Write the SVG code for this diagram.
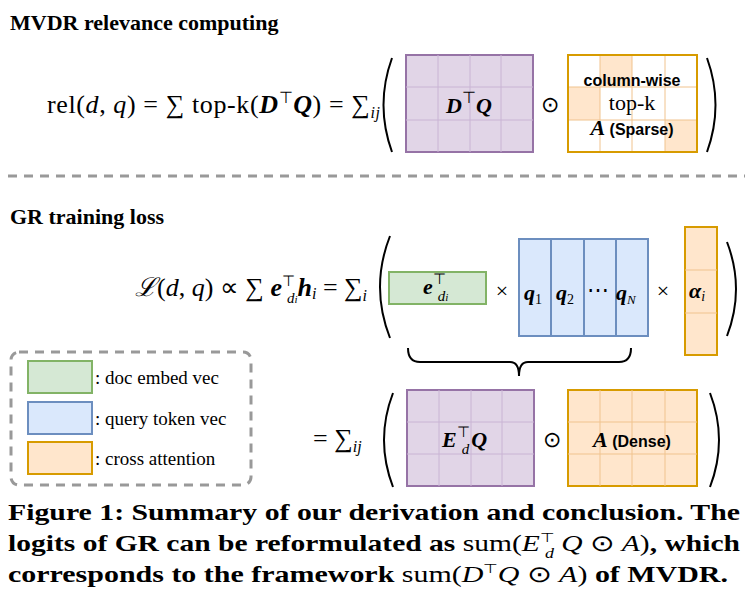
<svg xmlns="http://www.w3.org/2000/svg" width="751" height="597" viewBox="0 0 751 597">
<style>
.t{font-family:"Liberation Serif",serif;font-size:22px;fill:#000}
.f{font-size:26px}
.m{font-family:"Liberation Serif",serif;font-size:22px;font-style:italic;fill:#000}
.b{font-weight:bold}
.h{font-family:"Liberation Serif",serif;font-size:22px;font-weight:bold}
.s{font-family:"Liberation Sans",sans-serif;font-weight:bold;font-size:16px}
.lg{font-family:"Liberation Serif",serif;font-size:19px}
.pur{fill:#e1d5e7;stroke:#9673a6;stroke-width:2}
.ora{fill:#ffe6cc;stroke:#d79b00;stroke-width:2}
.grn{fill:#d5e8d4;stroke:#82b366;stroke-width:2}
.blu{fill:#dae8fc;stroke:#6c8ebf;stroke-width:2}
.gp{stroke:#c9b4d4;stroke-width:1;fill:none}
.go{stroke:#f0c38e;stroke-width:1;fill:none}
.par{fill:none;stroke:#000;stroke-width:2}
.cap{font-family:"Liberation Serif",serif;font-size:23px;font-weight:bold}
</style>
<rect width="751" height="597" fill="#fff"/>
<text x="10" y="30" class="h">MVDR relevance computing</text>
<g id="formula1">
<text x="47" y="113" class="t f" textLength="333" lengthAdjust="spacing">rel(<tspan font-style="italic">d</tspan>, <tspan font-style="italic">q</tspan>) = ∑ top-k(<tspan font-style="italic" font-weight="bold">D</tspan><tspan font-size="16" dy="-10">⊤</tspan><tspan font-style="italic" font-weight="bold" dy="10">Q</tspan>) = ∑<tspan font-size="16" font-style="italic" dy="5">ij</tspan></text>
</g>
<path class="par" d="M392,58 Q375,105 392,152"/>
<path class="par" d="M707,58 Q724,105 707,152"/>
<g id="DtQ">
<rect x="406" y="55" width="127" height="97" class="pur"/>
<path class="gp" d="M438,55V152M470,55V152M501,55V152M406,87H533M406,120H533"/>
<text x="469" y="113" class="m b f" text-anchor="middle">D<tspan font-size="16" font-style="normal" font-weight="normal" dy="-10">⊤</tspan><tspan dy="10">Q</tspan></text>
</g>
<text x="550" y="112" class="t" text-anchor="middle">⊙</text>
<g id="Asparse">
<rect x="568" y="55" width="129" height="97" fill="#fff"/>
<rect x="600" y="55" width="32" height="32" fill="#ffe6cc"/>
<rect x="568" y="87" width="32" height="33" fill="#ffe6cc"/>
<rect x="665" y="120" width="32" height="32" fill="#ffe6cc"/>
<path class="go" d="M600,55V152M632,55V152M665,55V152M568,87H697M568,120H697"/>
<rect x="568" y="55" width="129" height="97" fill="none" stroke="#d79b00" stroke-width="2"/>
<text x="632" y="86" class="s" text-anchor="middle">column-wise</text>
<text x="632" y="110" class="t" font-size="20" text-anchor="middle">top-k</text>
<text x="632" y="135" class="s" text-anchor="middle"><tspan class="m b" font-size="21">A</tspan> (Sparse)</text>
</g>
<line x1="8" y1="176" x2="745" y2="176" stroke="#999" stroke-width="3" stroke-dasharray="9,7"/>
<text x="10" y="224" class="h">GR training loss</text>
<g id="formula2">
<text x="135" y="296" class="t f"><tspan font-style="italic">ℒ</tspan>(<tspan font-style="italic">d</tspan>, <tspan font-style="italic">q</tspan>) ∝ ∑ <tspan font-style="italic" font-weight="bold">e</tspan><tspan font-size="15" dy="-10">⊤</tspan><tspan font-size="15" font-style="italic" dx="-8" dy="17">d<tspan font-size="11">i</tspan></tspan><tspan font-style="italic" font-weight="bold" dy="-7">h</tspan><tspan font-style="italic" font-size="16" dy="3">i</tspan><tspan dy="-3"> = ∑</tspan><tspan font-size="16" font-style="italic" dy="5">i</tspan></text>
</g>
<path class="par" d="M390,236 Q370,287 390,338"/>
<path class="par" d="M727,242 Q745,289 727,336"/>
<g id="edi">
<rect x="389" y="272" width="97" height="32" class="grn"/>
<text x="423" y="294" class="m b f">e<tspan font-size="15" font-style="normal" font-weight="normal" dy="-10">⊤</tspan><tspan font-size="15" font-weight="normal" dx="-8" dy="17">d<tspan font-size="11">i</tspan></tspan></text>
</g>
<text x="502" y="298" class="t" text-anchor="middle">×</text>
<g id="qtokens">
<rect x="519" y="239" width="129" height="97" class="blu"/>
<path d="M551,239V336M584,239V336M616,239V336" stroke="#6c8ebf" stroke-width="2"/>
<text x="524" y="300" class="m b f">q<tspan font-size="14" font-style="normal" font-weight="normal" dy="4">1</tspan></text>
<text x="556" y="300" class="m b f">q<tspan font-size="14" font-style="normal" font-weight="normal" dy="4">2</tspan></text>
<text x="587" y="297" class="t">⋯</text>
<text x="616" y="300" class="m b f">q<tspan font-size="13" font-weight="normal" dy="4">N</tspan></text>
</g>
<text x="663" y="298" class="t" text-anchor="middle">×</text>
<g id="alpha">
<rect x="685" y="227" width="32" height="128" class="ora"/>
<path class="go" d="M685,270H717M685,313H717"/>
<text x="689" y="298" class="m b f">α<tspan font-size="14" font-weight="normal" dy="3">i</tspan></text>
</g>
<g id="connectors">
<path class="par" d="M408,348 Q408,362 420,362 H510 Q519,362 519,376 Q519,362 528,362 H619 Q631,362 631,348" stroke-width="1.6"/>
</g>
<g id="legend">
<rect x="11" y="352" width="240" height="133" rx="8" fill="none" stroke="#999" stroke-width="3" stroke-dasharray="9,7"/>
<rect x="28" y="361" width="64" height="32" class="grn"/>
<rect x="28" y="402" width="64" height="32" class="blu"/>
<rect x="28" y="442" width="64" height="32" class="ora"/>
<text x="95" y="384" class="lg">: doc embed vec</text>
<text x="95" y="425" class="lg">: query token vec</text>
<text x="95" y="465" class="lg">: cross attention</text>
</g>
<text x="313" y="447" class="t f">= ∑<tspan font-size="16" font-style="italic" dy="5">ij</tspan></text>
<path class="par" d="M393,393 Q375,440 393,487"/>
<path class="par" d="M710,393 Q728,440 710,487"/>
<g id="EdQ">
<rect x="407" y="390" width="127" height="96" class="pur"/>
<path class="gp" d="M439,390V486M471,390V486M502,390V486M407,422H534M407,454H534"/>
<text x="442" y="447" class="m b f">E<tspan font-size="15" font-style="normal" font-weight="normal" dy="-10">⊤</tspan><tspan font-size="15" font-weight="normal" dx="-8" dy="17">d</tspan><tspan dy="-7" dx="2">Q</tspan></text>
</g>
<text x="552" y="447" class="t" text-anchor="middle">⊙</text>
<g id="Adense">
<rect x="568" y="390" width="129" height="96" class="ora"/>
<path class="go" d="M600,390V486M632,390V486M665,390V486M568,422H697M568,454H697"/>
<text x="632" y="447" class="s" text-anchor="middle"><tspan class="m b" font-size="21">A</tspan> (Dense)</text>
</g>
<g id="caption" class="cap">
<text x="8" y="520" textLength="732" lengthAdjust="spacingAndGlyphs">Figure 1: Summary of our derivation and conclusion. The</text>
<text x="8" y="551" textLength="732" lengthAdjust="spacingAndGlyphs">logits of GR can be reformulated as <tspan font-weight="normal">sum(</tspan><tspan font-weight="normal" font-style="italic">E</tspan><tspan font-weight="normal" font-size="13" dy="-9">⊤</tspan><tspan font-weight="normal" font-style="italic" font-size="14" dx="-7" dy="16">d</tspan><tspan font-weight="normal" font-style="italic" dy="-7"> Q</tspan><tspan font-weight="normal"> ⊙ </tspan><tspan font-weight="normal" font-style="italic">A</tspan><tspan font-weight="normal">)</tspan>, which</text>
<text x="8" y="582" textLength="720" lengthAdjust="spacingAndGlyphs">corresponds to the framework <tspan font-weight="normal">sum(</tspan><tspan font-weight="normal" font-style="italic">D</tspan><tspan font-weight="normal" font-size="13" dy="-9">⊤</tspan><tspan font-weight="normal" font-style="italic" dy="9">Q</tspan><tspan font-weight="normal"> ⊙ </tspan><tspan font-weight="normal" font-style="italic">A</tspan><tspan font-weight="normal">)</tspan> of MVDR.</text>
</g>
</svg>
